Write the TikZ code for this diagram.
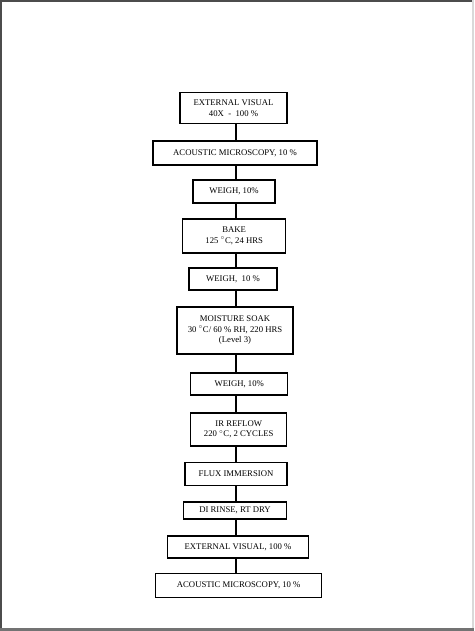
\documentclass[tikz,border=0pt]{standalone}
\usepackage{fontspec}
\setmainfont{Liberation Serif}
\usetikzlibrary{positioning, calc}

\begin{document}
\begin{tikzpicture}[x=1pt, y=-1pt,
	box/.style={draw, line width=1.1pt, align=center, inner sep=0pt,
		font=\fontsize{8.7}{10.5}\selectfont},
	link/.style={line width=1.1pt}]
				\useasboundingbox (0,0) rectangle (474,631);
				% page frame
				\draw[line width=2pt, black!70] (1,631) -- (1,1) -- (474,1);
				\draw[line width=3pt, black!55] (0,629.5) -- (474,629.5);
				\draw[line width=2pt, black!15] (473,0) -- (473,628);
				
				\node[box, minimum width=107pt, minimum height=31pt] (visual1) at (233.5,108) {EXTERNAL VISUAL\\40X \ - \ 100 \%};
				\node[box, minimum width=164pt, minimum height=24pt] (acoustic1) at (235,153) {ACOUSTIC MICROSCOPY, 10 \%};
				\node[box, minimum width=82pt, minimum height=23pt] (weigh1) at (234,191.5) {WEIGH, 10\%};
				\node[box, minimum width=103pt, minimum height=34pt] (bake) at (234.2,236) {BAKE\\125 $^{\circ}$C, 24 HRS};
				\node[box, minimum width=88pt, minimum height=22pt] (weigh2) at (233,279) {WEIGH, \ 10 \%};
				\node[box, minimum width=116pt, minimum height=47pt] (soak) at (235,330.5) {MOISTURE SOAK\\30 $^{\circ}$C/ 60 \% RH, 220 HRS\\(Level 3)};
				\node[box, minimum width=97pt, minimum height=22pt] (weigh3) at (239.3,384) {WEIGH, 10\%};
				\node[box, minimum width=96pt, minimum height=33pt] (reflow) at (238.7,429.5) {IR REFLOW\\220 $^{\circ}$C, 2 CYCLES};
				\node[box, minimum width=102pt, minimum height=23pt] (flux) at (236,474) {FLUX IMMERSION};
				\node[box, minimum width=103pt, minimum height=17pt] (rinse) at (235,510.5) {DI RINSE, RT DRY};
				\node[box, minimum width=141pt, minimum height=22pt] (visual2) at (238,547) {EXTERNAL VISUAL, 100 \%};
				\node[box, minimum width=166pt, minimum height=24pt] (acoustic2) at (238.7,585.5) {ACOUSTIC MICROSCOPY, 10 \%};
				
				\coordinate (spine) at (236,0);
				\foreach \a/\b in {visual1/acoustic1, acoustic1/weigh1, weigh1/bake, bake/weigh2, weigh2/soak, soak/weigh3, weigh3/reflow, reflow/flux, flux/rinse, rinse/visual2, visual2/acoustic2}
					\draw[link] (spine |- \a.south) -- (spine |- \b.north);
\end{tikzpicture}
\end{document}
